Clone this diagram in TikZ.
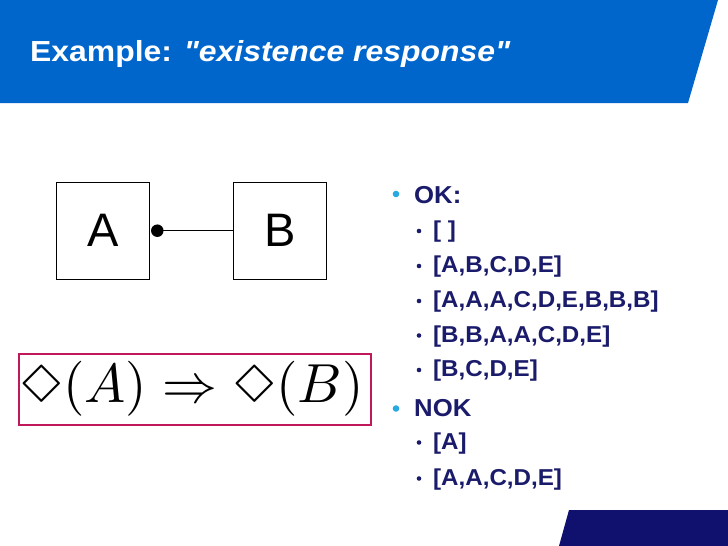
\documentclass[tikz,border=0pt]{standalone}
\usepackage{graphicx}
\usepackage{latexsym}
\usepackage[no-math]{fontspec}
\setmainfont{Liberation Sans}
\newfontfamily\titlefont{Liberation Sans}[FakeStretch=1.1]
\newfontfamily\listfont{Liberation Sans}[FakeStretch=1.05]
\begin{document}
\begin{tikzpicture}[x=1pt,y=-1pt,
  box/.style={draw=black,line width=0.9pt,minimum width=93pt,minimum height=96.5pt,inner sep=0pt,font=\fontsize{47}{47}\selectfont},
  lvlone/.style={anchor=base west,inner sep=0pt,font=\listfont\fontsize{24.5}{24.5}\selectfont\bfseries,text=navy},
  lvltwo/.style={anchor=base west,inner sep=0pt,font=\listfont\fontsize{23}{23}\selectfont\bfseries,text=navy},
  bulone/.style={circle,fill=bulblue,inner sep=0pt,minimum size=6.6pt},
  bultwo/.style={circle,fill=navy,inner sep=0pt,minimum size=4.6pt}
]
\definecolor{hdrblue}{HTML}{0066CC}
\definecolor{navy}{HTML}{1B1B6B}
\definecolor{bulblue}{HTML}{29A9E0}
\definecolor{botnavy}{HTML}{10106E}
\definecolor{frm}{HTML}{C0185A}
\useasboundingbox (0,0) rectangle (728,546);
\fill[white] (0,0) rectangle (728,546);
% header
\fill[hdrblue] (0,0) -- (718,0) -- (688,103) -- (0,103) -- cycle;
\node[anchor=base west,inner sep=0pt,text=white,font=\titlefont\fontsize{29}{29}\selectfont\bfseries] (title) at (30,61.5) {Example: \textit{"existence response"}};
% bottom band
\fill[botnavy] (569,510) -- (728,510) -- (728,546) -- (559,546) -- cycle;
% boxes
\node[box] (A) at (102.7,230.7) {A};
\node[box] (B) at (279.7,230.7) {B};
\node[circle,fill=black,inner sep=0pt,minimum size=12.5pt] (dot) at (157.3,230.7) {};
\draw[line width=0.9pt] (dot.center) -- (B.west |- dot.center);
% formula
\node[draw=frm,line width=2pt,minimum width=351.4pt,minimum height=70.7pt,inner sep=0pt] (F) at (195,389.7) {};
\node[anchor=base,inner sep=0pt] (formula) at (191.5,402.6) {\scalebox{5.5}{$\Diamond(A)\Rightarrow\Diamond(B)$}};
% bullets
\node[bulone] (b1) at (396,194) {};
\node[lvlone] (ok) at (414,203) {OK:};
\node[bultwo] (s1) at (419,231) {};
\node[lvltwo] (t1) at (433,237.5) {[ ]};
\node[bultwo] (s2) at (419,266) {};
\node[lvltwo] (t2) at (433,272.5) {[A,B,C,D,E]};
\node[bultwo] (s3) at (419,301) {};
\node[lvltwo] (t3) at (433,307.5) {[A,A,A,C,D,E,B,B,B]};
\node[bultwo] (s4) at (419,335.5) {};
\node[lvltwo] (t4) at (433,342) {[B,B,A,A,C,D,E]};
\node[bultwo] (s5) at (419,370) {};
\node[lvltwo] (t5) at (433,376.5) {[B,C,D,E]};
\node[bulone] (b2) at (396,408.5) {};
\node[lvlone] (nok) at (414,416.5) {NOK};
\node[bultwo] (s6) at (419,442.5) {};
\node[lvltwo] (t6) at (433,449) {[A]};
\node[bultwo] (s7) at (419,478.5) {};
\node[lvltwo] (t7) at (433,485) {[A,A,C,D,E]};
\end{tikzpicture}
\end{document}
